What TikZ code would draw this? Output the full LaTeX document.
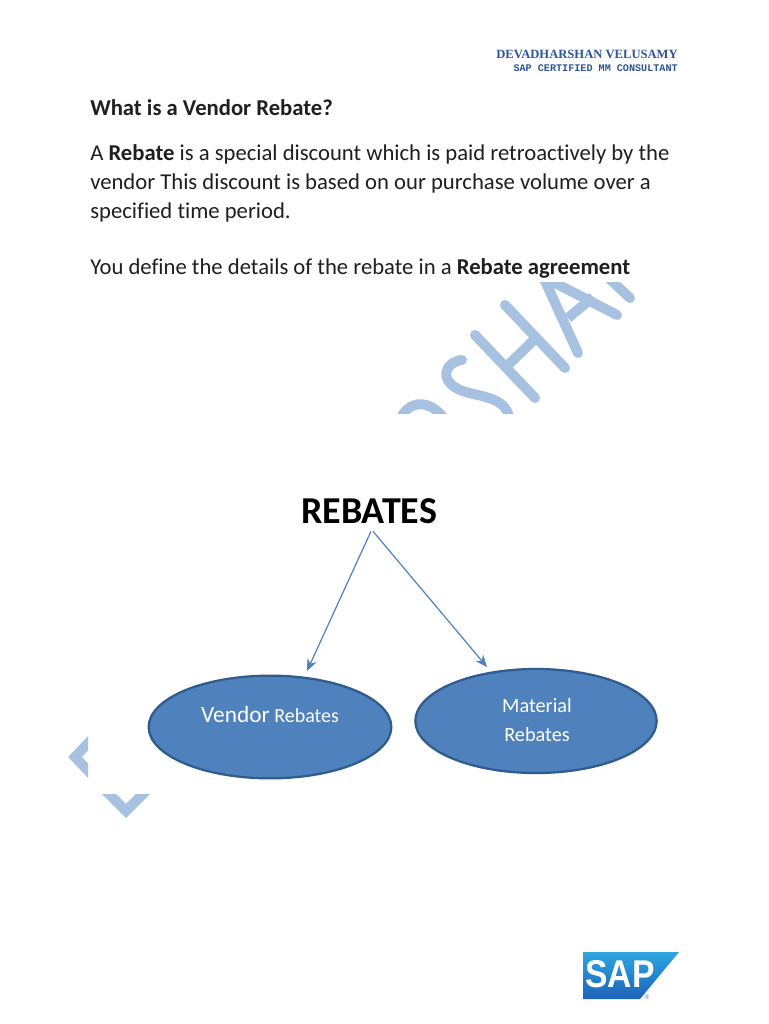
\documentclass[tikz,border=0pt]{standalone}
\usepackage{fontspec}
\setmainfont[Ligatures=NoCommon]{Carlito}
\newfontfamily\headfont{Liberation Serif}
\newfontfamily\subfont{Liberation Mono}
\newfontfamily\logofont{Liberation Sans}
\usetikzlibrary{calc,arrows.meta,positioning,shapes.geometric}
\definecolor{wmarkblue}{HTML}{A7C2E0}
\definecolor{ovalblue}{HTML}{4F81BD}
\definecolor{ovalline}{HTML}{2F5C8F}
\definecolor{headblue}{HTML}{2F5496}
\definecolor{bodytext}{HTML}{1F1F1F}
\definecolor{logotop}{HTML}{2EA6E0}
\definecolor{logobottom}{HTML}{1B63B8}
\tikzset{
  para/.style={anchor=base west,inner sep=0pt,text=bodytext,font=\fontsize{17}{19}\selectfont},
  oval node/.style={ellipse,draw=ovalline,line width=1.7pt,fill=ovalblue,inner sep=0pt},
  oval text/.style={text=white,inner sep=0pt},
  link/.style={ovalblue,line width=0.9pt,-{Stealth[length=9pt,width=7.5pt]}},
  wmark/.style={wmarkblue,line width=7.5pt,line cap=round,line join=round}
}
\begin{document}
\begin{tikzpicture}[x=0.75pt,y=-0.75pt]
    \useasboundingbox (0,0) rectangle (768,1024);
    \fill[white] (0,0) rectangle (768,1024);
    % watermark
    \begin{scope}
      \clip (380,282) rectangle (660,413);
      \draw[wmark] (505,305) -- (565,368);
      \draw[wmark] (475,335) -- (535,398);
      \draw[wmark,line cap=butt] (508,365) -- (537,337);
      \draw[wmark] (540,270) -- (578,353);
      \draw[wmark] (530,270) -- (617,315);
      \draw[wmark,line cap=butt] (568,318) -- (593,297);
      \draw[wmark] (600,270) -- (630,298);
      \draw[wmark] (462,360) .. controls (445,362) and (438,380) .. (460,390)
        .. controls (480,398) and (510,395) .. (510,425);
      \draw[wmark] (400,420) .. controls (408,400) and (430,398) .. (445,420);
    \end{scope}
    \begin{scope}
      \clip (60,736) rectangle (88,780);
      \draw[wmark,line cap=butt,line join=miter] (96,735) -- (75,757) -- (96,779);
    \end{scope}
    \begin{scope}
      \clip (95,794) rectangle (160,825);
      \draw[wmark,line cap=butt,line join=miter] (99,784) -- (126,811) -- (153,784);
    \end{scope}
    % header
    \node[anchor=base east,inner sep=0pt,text=headblue,font=\headfont\bfseries\fontsize{9.45}{10}\selectfont] (author) at (678,59) {DEVADHARSHAN VELUSAMY};
    \node[anchor=base east,inner sep=0pt,text=headblue,font=\subfont\bfseries\fontsize{7.6}{8}\selectfont] (title) at (678,72) {SAP CERTIFIED MM CONSULTANT};
    % text
    \node[para] (question) at (90,115) {\textbf{What is a Vendor Rebate?}};
    \node[para] (line1) at (90,160) {A \textbf{Rebate} is a special discount which is paid retroactively by the};
    \node[para] (line2) at (90,189) {vendor This discount is based on our purchase volume over a};
    \node[para] (line3) at (90,218) {specified time period.};
    \node[para] (line4) at (90,274) {You define the details of the rebate in a \textbf{Rebate agreement}};
    % diagram
    \node[inner sep=0pt,minimum height=30pt,font=\bfseries\fontsize{28.5}{30}\selectfont] (rebates) at (369,511) {REBATES};
    \node[oval node,minimum width=182pt,minimum height=77pt] (vendor) at (270,727) {};
    \node[oval node,minimum width=181pt,minimum height=78pt] (material) at (536,721) {};
    \node[oval text,font=\fontsize{15}{17}\selectfont] (vendorlabel) at (270,714.5) {{\fontsize{17.5}{17}\selectfont Vendor} Rebates};
    \node[oval text,font=\fontsize{15.2}{17}\selectfont] (materiallabel) at (537,706) {Material};
    \node[oval text,font=\fontsize{15.2}{17}\selectfont] (rebateslabel) at (537,735) {Rebates};
    \coordinate (vendortip) at (307,671);
    \coordinate (materialtip) at (487,667);
    \draw[link] ($(rebates.south)+(2,0)$) -- (vendortip);
    \draw[link] ($(rebates.south)+(4,0)$) -- (materialtip);
    % logo
    \shade[top color=logotop,bottom color=logobottom]
      (583,952) -- (679,952) -- (640,999) -- (583,999) -- cycle;
    \node[anchor=base,text=white,inner sep=0pt,xscale=0.87,text depth=0pt,font=\logofont\bfseries\fontsize{29}{29}\selectfont] (sap) at (620,987) {SAP};
    \node[text=ovalblue,inner sep=0pt,font=\logofont\fontsize{5}{5}\selectfont] (reg) at (647,997) {®};
\end{tikzpicture}
\end{document}
